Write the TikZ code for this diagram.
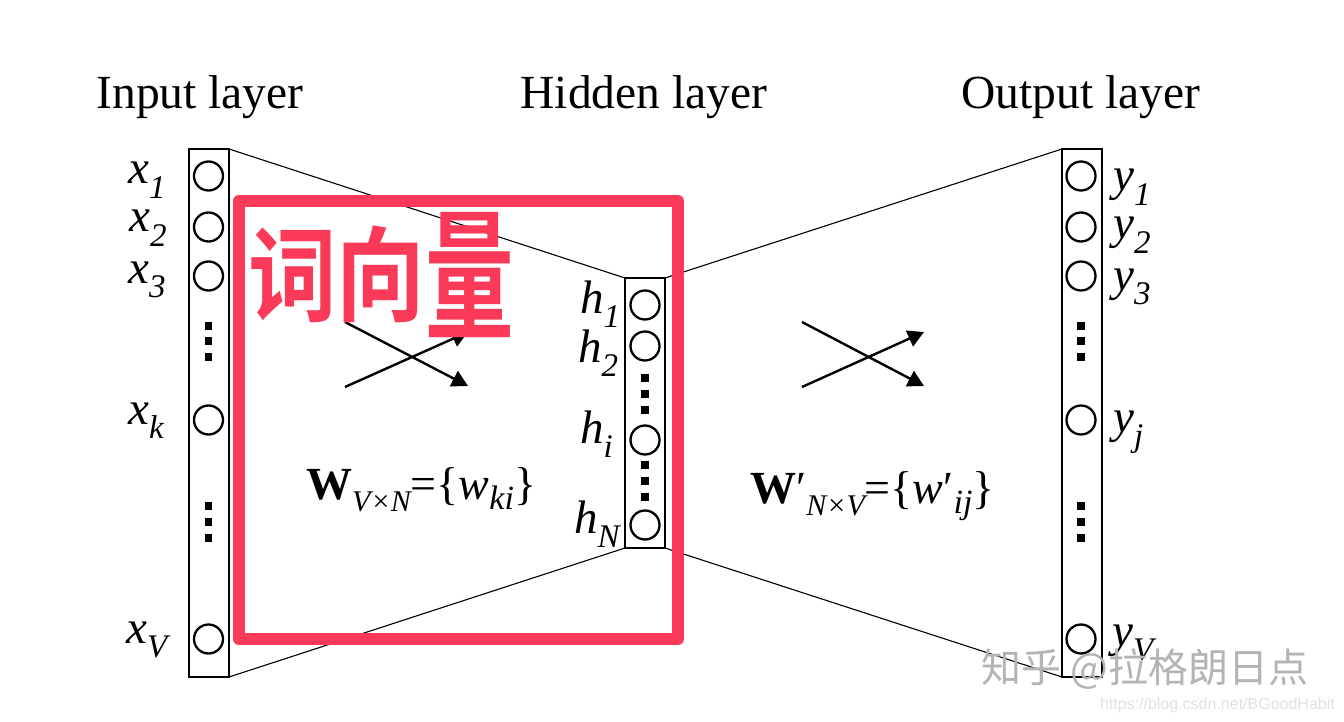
\documentclass[tikz,border=0pt]{standalone}
\usepackage{fontspec}
\setmainfont{Liberation Serif}
\newfontfamily\cjk[BoldFont={* Bold}]{Noto Sans CJK SC}
\newfontfamily\urlfont{Liberation Sans}
\usetikzlibrary{arrows.meta}
\definecolor{redmark}{HTML}{FB3A5A}
\definecolor{wmgray}{HTML}{B4B4B4}
\definecolor{wmurl}{HTML}{E2E2E2}
\newcommand{\lbl}[2]{{\itshape #1\raisebox{-0.3em}{\fontsize{33}{33}\selectfont #2}}}
\tikzset{
  x=1pt,y=-1pt,
  layerbox/.style={draw=black,line width=2.5pt,minimum width=40pt,inner sep=0pt,outer sep=0pt,fill=none},
  neuron/.style={circle,draw=black,line width=2.3pt,minimum size=29pt,inner sep=0pt},
  dotmark/.style={fill=black,minimum width=7.5pt,minimum height=7.5pt,inner sep=0pt},
  wire/.style={line width=1.1pt},
  cross/.style={line width=2.4pt,-{Triangle[length=16pt,width=17pt]}},
  title/.style={font=\fontsize{47.5}{47.5}\selectfont,anchor=base,inner sep=0pt},
  varlabel/.style={font=\fontsize{47}{47}\selectfont,anchor=base west,inner sep=0pt},
  formula/.style={font=\fontsize{46}{46}\selectfont,anchor=base west,inner sep=0pt},
}
\begin{document}
\begin{tikzpicture}
\useasboundingbox (0,0) rectangle (1344,722);
\fill[white] (0,0) rectangle (1344,722);
% titles
\node[title] (t1) at (200,109) {Input layer};
\node[title] (t2) at (644,109) {Hidden layer};
\node[title] (t3) at (1081,109) {Output layer};
% boxes
\node[layerbox,minimum height=528pt] (inbox) at (209,413) {};
\node[layerbox,minimum height=270pt] (hidbox) at (645,413) {};
\node[layerbox,minimum height=528pt] (outbox) at (1082,413) {};
% wires
\draw[wire] (inbox.north east) -- (hidbox.north west);
\draw[wire] (inbox.south east) -- (hidbox.south west);
\draw[wire] (outbox.north west) -- (hidbox.north east);
\draw[wire] (outbox.south west) -- (hidbox.south east);
% input neurons
\node[neuron] (i1) at (208.5,176) {};
\node[neuron] (i2) at (208.5,227) {};
\node[neuron] (i3) at (208.5,276) {};
\node[neuron] (ik) at (208.5,420) {};
\node[neuron] (iv) at (208.5,639) {};
% output neurons
\node[neuron] (o1) at (1081,176) {};
\node[neuron] (o2) at (1081,227) {};
\node[neuron] (o3) at (1081,276) {};
\node[neuron] (oj) at (1081,420) {};
\node[neuron] (ov) at (1081,639) {};
% hidden neurons
\node[neuron] (h1) at (645,305) {};
\node[neuron] (h2) at (645,346) {};
\node[neuron] (hi) at (645,440) {};
\node[neuron] (hn) at (645,525) {};
% dots
\foreach \n/\px/\py in {a/208.5/326,b/208.5/341,c/208.5/357,d/208.5/506,e/208.5/522,f/208.5/538,
  g/1081/326,h/1081/341,i/1081/357,j/1081/506,k/1081/522,l/1081/538,
  m/645/378,n/645/394,o/645/410,p/645/465,q/645/481,r/645/497}
  \node[dotmark] (dot\n) at (\px,\py) {};
% labels
\node[varlabel] (lx1) at (128,184) {\lbl{x}{1}};
\node[varlabel] (lx2) at (129,232) {\lbl{x}{2}};
\node[varlabel] (lx3) at (128,283) {\lbl{x}{3}};
\node[varlabel] (lxk) at (128,424) {\lbl{x}{k}};
\node[varlabel] (lxv) at (126,643) {\lbl{x}{V}};
\node[varlabel] (ly1) at (1113,191) {\lbl{y}{1}};
\node[varlabel] (ly2) at (1113,239) {\lbl{y}{2}};
\node[varlabel] (ly3) at (1113,290) {\lbl{y}{3}};
\node[varlabel] (lyj) at (1113,432) {\lbl{y}{j}};
\node[varlabel] (lyv) at (1112,646) {\lbl{y}{V}};
\node[varlabel] (lh1) at (580,313) {\lbl{h}{1}};
\node[varlabel] (lh2) at (578,362) {\lbl{h}{2}};
\node[varlabel] (lhi) at (580,443) {\lbl{h}{i}};
\node[varlabel] (lhn) at (574,533) {\lbl{h}{N}};
% crossing arrows
\coordinate (a1) at (345,322); \coordinate (a2) at (468,386);
\coordinate (a3) at (345,387); \coordinate (a4) at (468,332);
\coordinate (b1) at (802,322); \coordinate (b2) at (924,386);
\coordinate (b3) at (802,387); \coordinate (b4) at (924,332);
\draw[cross] (a1) -- (a2);
\draw[cross] (a3) -- (a4);
\draw[cross] (b1) -- (b2);
\draw[cross] (b3) -- (b4);
% formulas
\node[formula] (f1) at (306,499) {\textbf{W}{\fontsize{30}{30}\selectfont\raisebox{-0.42em}{\itshape V×N}}=\{\textit{w}{\fontsize{34}{34}\selectfont\raisebox{-0.3em}{\itshape ki}}\}};
\node[formula] (f2) at (750,503) {\textbf{W}′{\fontsize{30}{30}\selectfont\raisebox{-0.42em}{\itshape N×V}}=\{\textit{w}′{\fontsize{34}{34}\selectfont\raisebox{-0.3em}{\itshape ij}}\}};
% red annotation
\draw[redmark,line width=12pt,line join=round] (239,201) rectangle (678,639);
\node[text=redmark,font={\cjk\bfseries\fontsize{86}{86}\selectfont},anchor=base west,inner sep=0pt] (ann) at (248,328) {\raisebox{15pt}{\scalebox{1.03}[1.2]{词向}}\scalebox{1.03}[1.65]{量}};
% watermarks
\node[text=wmgray,font={\cjk\fontsize{40}{40}\selectfont},anchor=west,inner sep=0pt] (wm) at (981,669) {知乎 @拉格朗日点};
\node[text=wmurl,font={\urlfont\fontsize{16}{16}\selectfont},anchor=east,inner sep=0pt] (url) at (1335,705) {https://blog.csdn.net/BGoodHabit};
\end{tikzpicture}
\end{document}
